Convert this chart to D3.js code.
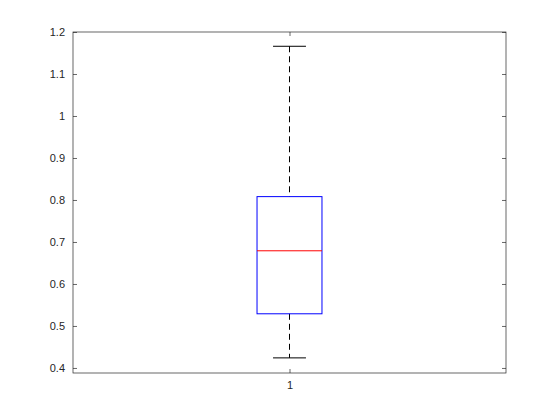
<!DOCTYPE html>
<html><head><meta charset="utf-8">
<script src="https://cdn.jsdelivr.net/npm/d3@7"></script>
<style>body{margin:0;background:#fff}</style></head>
<body><svg id="c" width="560" height="420"></svg>
<script>
const categories=["1"];
const lowerWhisker=[0.424], q1=[0.529], median=[0.679], q3=[0.808], upperWhisker=[1.166];
const yTicks=[0.4,0.5,0.6,0.7,0.8,0.9,1,1.1,1.2];
const svg=d3.select("#c");
const L=73,R=506,T=32,B=373;
const x=d3.scaleLinear().domain([0.5,1.5]).range([L,R]);
const y=d3.scaleLinear().domain([0.388,1.2]).range([B,T]);
svg.append("rect").attr("width",560).attr("height",420).attr("fill","#fff");
svg.append("rect").attr("x",L).attr("y",T).attr("width",R-L).attr("height",B-T).attr("fill","#fff").attr("stroke","#262626").attr("stroke-width",0.7);
const fnt="Liberation Sans, Arial, sans-serif";
const yg=svg.append("g").attr("transform",`translate(${L},0)`).call(d3.axisLeft(y).tickValues(yTicks).tickFormat(d3.format("")).tickSizeInner(-4).tickSizeOuter(0).tickPadding(8));
yg.select(".domain").remove();
const yg2=svg.append("g").attr("transform",`translate(${R},0)`).call(d3.axisRight(y).tickValues(yTicks).tickFormat("").tickSizeInner(-4).tickSizeOuter(0));
yg2.select(".domain").remove();
const xg=svg.append("g").attr("transform",`translate(0,${B})`).call(d3.axisBottom(x).tickValues([1]).tickFormat((d,i)=>categories[i]).tickSizeInner(-4).tickSizeOuter(0).tickPadding(8));
xg.select(".domain").remove();
const xg2=svg.append("g").attr("transform",`translate(0,${T})`).call(d3.axisTop(x).tickValues([1]).tickFormat("").tickSizeInner(-4).tickSizeOuter(0));
xg2.select(".domain").remove();
svg.selectAll(".tick line").attr("stroke","#262626").attr("stroke-width",0.7);
svg.selectAll(".tick text").attr("fill","#262626").style("font-family",fnt).style("font-size","11px");
categories.forEach((c,i)=>{
  const cx=x(i+1), hw=0.075, cw=0.038;
  const g=svg.append("g");
  g.append("line").attr("x1",cx).attr("x2",cx).attr("y1",y(upperWhisker[i])).attr("y2",y(q3[i])).attr("stroke","#000").attr("stroke-dasharray","6,4");
  g.append("line").attr("x1",cx).attr("x2",cx).attr("y1",y(q1[i])).attr("y2",y(lowerWhisker[i])).attr("stroke","#000").attr("stroke-dasharray","6,4");
  [upperWhisker[i],lowerWhisker[i]].forEach(v=>g.append("line").attr("x1",x(i+1-cw)).attr("x2",x(i+1+cw)).attr("y1",y(v)).attr("y2",y(v)).attr("stroke","#000"));
  g.append("rect").attr("x",x(i+1-hw)).attr("width",x(i+1+hw)-x(i+1-hw)).attr("y",y(q3[i])).attr("height",y(q1[i])-y(q3[i])).attr("fill","none").attr("stroke","#0000ff");
  g.append("line").attr("x1",x(i+1-hw)).attr("x2",x(i+1+hw)).attr("y1",y(median[i])).attr("y2",y(median[i])).attr("stroke","#ff0000");
});
</script></body></html>
